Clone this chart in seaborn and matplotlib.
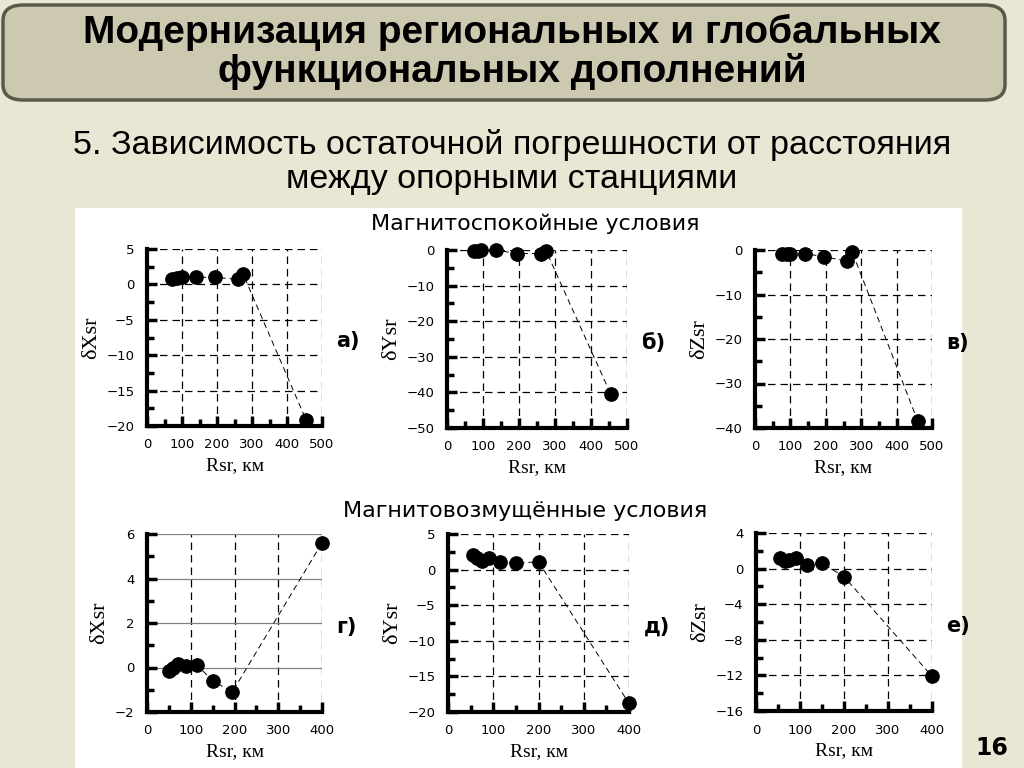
import matplotlib
matplotlib.use("Agg")
import matplotlib.pyplot as plt
import seaborn as sns
import pandas as pd
from matplotlib.patches import FancyBboxPatch, Rectangle

title = "Модернизация региональных и глобальных\nфункциональных дополнений"
subtitle = "5. Зависимость остаточной погрешности от расстояния\nмежду опорными станциями"
top_title = "Магнитоспокойные условия"
bot_title = "Магнитовозмущённые условия"

xa = [70, 85, 100, 140, 195, 260, 275, 455]
ya = [0.7, 0.9, 1.0, 1.0, 1.0, 0.7, 1.4, -19.2]
xb = [75, 85, 95, 135, 195, 260, 275, 455]
yb = [-0.3, -0.3, 0.0, 0.0, -1.0, -1.0, -0.2, -40.5]
xv = [75, 90, 100, 140, 195, 260, 275, 460]
yv = [-1.0, -1.0, -0.8, -0.8, -1.5, -2.5, -0.5, -38.5]
xg = [50, 60, 70, 90, 115, 150, 195, 400]
yg = [-0.15, 0.0, 0.15, 0.05, 0.1, -0.6, -1.1, 5.6]
xd = [55, 65, 75, 90, 115, 150, 200, 400]
yd = [2.0, 1.6, 1.2, 1.6, 1.1, 0.9, 1.1, -18.8]
xe = [55, 65, 75, 90, 115, 150, 200, 400]
ye = [1.2, 0.8, 1.0, 1.2, 0.4, 0.6, -0.9, -12.1]

W, H = 1024, 768
fig = plt.figure(figsize=(10.24, 7.68), dpi=100)
fig.patch.set_facecolor("#e9e6d3")

box = FancyBboxPatch((3/W, 1-100/H), 1002/W, 95/H, boxstyle="round,pad=0,rounding_size=0.02",
                     transform=fig.transFigure, facecolor="#cdc8b0", edgecolor="#5a5a4a", lw=2.5,
                     zorder=-10)
fig.patches.append(box)
fig.text(0.5, 1-52/H, title, ha="center", va="center", fontsize=28, fontweight="bold",
         family="Liberation Sans", linespacing=1.1)
fig.text(0.5, 1-162/H, subtitle, ha="center", va="center", fontsize=24.5,
         family="Liberation Sans", linespacing=1.15)
fig.patches.append(Rectangle((75/W, 0), 887/W, 560/H, transform=fig.transFigure,
                             facecolor="white", edgecolor="none", zorder=-10))
fig.text(535/W, 1-224/H, top_title, ha="center", va="center", fontsize=16, family="DejaVu Sans")
fig.text(525/W, 1-511/H, bot_title, ha="center", va="center", fontsize=16, family="DejaVu Sans")
fig.text(992/W, 1-748/H, "16", ha="center", va="center", fontsize=17, fontweight="bold")

panels = [
    (xa, ya, (147, 322, 249, 426), (0, 500), (-20, 5), 5, "δXsr", "а)", False),
    (xb, yb, (447, 627, 250, 428), (0, 500), (-50, 0), 10, "δYsr", "б)", False),
    (xv, yv, (755, 932, 250, 428), (0, 500), (-40, 0), 10, "δZsr", "в)", False),
    (xg, yg, (147, 322, 534, 712), (0, 400), (-2, 6), 2, "δXsr", "г)", True),
    (xd, yd, (448, 629, 534, 712), (0, 400), (-20, 5), 5, "δYsr", "д)", False),
    (xe, ye, (756, 932, 533, 711), (0, 400), (-16, 4), 4, "δZsr", "е)", False),
]
dash = (0, (6, 4))
for x, y, (l, r, t, b), xl, yl, ystep, ylab, tag, solid in panels:
    ax = fig.add_axes([l/W, 1-b/H, (r-l)/W, (b-t)/H])
    ax.set_facecolor("white")
    df = pd.DataFrame({"x": x, "y": y})
    sns.lineplot(data=df, x="x", y="y", ax=ax, color="black", lw=0.7, linestyle=dash, sort=False)
    sns.scatterplot(data=df, x="x", y="y", ax=ax, color="black", s=95, edgecolor="black", zorder=5,
                    clip_on=False)
    ax.set_xlim(*xl); ax.set_ylim(*yl)
    xt = list(range(0, xl[1]+1, 100))
    yt = list(range(yl[0], yl[1]+1, ystep))
    ax.set_xticks(xt); ax.set_yticks(yt)
    ax.set_xticks([v+50 for v in xt[:-1]], minor=True)
    ax.set_yticks([v+ystep/2 for v in yt[:-1]], minor=True)
    for v in xt[1:]:
        ax.axvline(v, color="black", lw=0.9, ls=dash, zorder=1)
    for v in yt[1:]:
        ax.axhline(v, color="gray" if solid else "black", lw=0.9, ls="-" if solid else dash, zorder=1)
    for s in ["top", "right"]:
        ax.spines[s].set_visible(False)
    for s in ["left", "bottom"]:
        ax.spines[s].set_linewidth(3)
    ax.tick_params(which="major", direction="in", length=7, width=2.5, labelsize=9.5, pad=9)
    ax.tick_params(which="minor", direction="in", length=5, width=2.5)
    ax.set_xlabel("Rsr, км", family="Liberation Serif", fontsize=14, labelpad=4)
    ax.set_ylabel(ylab, family="Liberation Serif", fontsize=16, labelpad=4)
    ax.text(1.08, 0.48, tag, transform=ax.transAxes, fontsize=15, fontweight="bold", va="center")

fig.savefig("out.png", dpi=100, facecolor=fig.get_facecolor())
